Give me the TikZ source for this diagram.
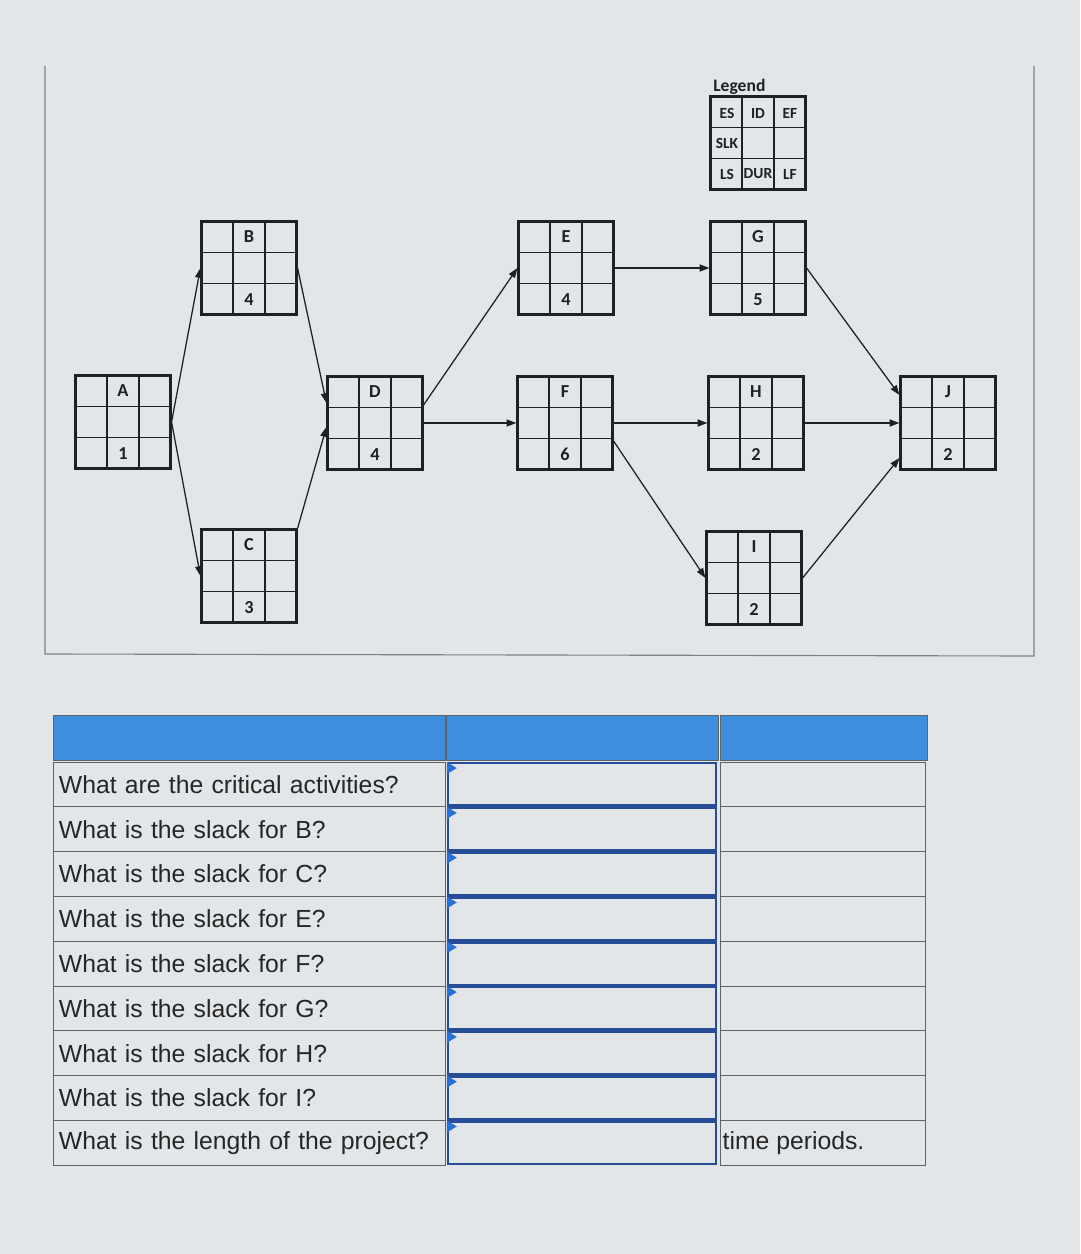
\documentclass[tikz,border=0pt]{standalone}
\usepackage{fontspec}
\setmainfont{Liberation Sans}
\newfontfamily\boxfont{Carlito}
\usetikzlibrary{arrows.meta,calc}

\definecolor{bgcol}{RGB}{226,230,233}
\definecolor{framecol}{RGB}{125,128,132}
\definecolor{headblue}{RGB}{62,142,222}
\definecolor{fieldblue}{RGB}{38,78,150}
\definecolor{tipblue}{RGB}{40,112,215}
\definecolor{qgray}{RGB}{95,98,102}
\definecolor{inkcol}{RGB}{30,32,38}

\begin{document}
\begin{tikzpicture}[x=0.025cm, y=-0.025cm,
    actbox/.style={draw=inkcol, line width=1.5pt, minimum width=2.375cm, minimum height=2.325cm, inner sep=0pt,
        path picture={
            \foreach \t in {0.3333,0.6667}{
                \draw[inkcol, line width=1.3pt] ($(path picture bounding box.north west)!\t!(path picture bounding box.north east)$) -- ($(path picture bounding box.south west)!\t!(path picture bounding box.south east)$);
                \draw[inkcol, line width=1.3pt] ($(path picture bounding box.north west)!\t!(path picture bounding box.south west)$) -- ($(path picture bounding box.north east)!\t!(path picture bounding box.south east)$);
            }}},
    celltext/.style={font=\boxfont\bfseries\fontsize{13}{15}\selectfont, text=inkcol, inner sep=0pt},
    legtext/.style={font=\boxfont\bfseries\fontsize{11}{13}\selectfont, text=inkcol, inner sep=0pt},
    conn/.style={draw=inkcol, line width=0.9pt, -{Triangle[length=7pt,width=5pt]}},
    qcell/.style={draw=qgray, line width=0.6pt, minimum height=1.12cm, text width=9.5cm, inner xsep=0.15cm, align=left,
        font=\fontsize{17.6}{20}\selectfont, text=black!85},
    field/.style={draw=fieldblue, line width=1.6pt, minimum width=6.7cm, minimum height=1.06cm, inner sep=0pt},
    anscell/.style={draw=qgray, line width=0.6pt, minimum width=5.125cm, minimum height=1.12cm, inner sep=0pt},
    headcell/.style={draw=qgray, fill=headblue, line width=0.6pt, minimum height=1.125cm, inner sep=0pt}]

    % page
    \fill[bgcol] (0,0) rectangle (1080,1254);
    \useasboundingbox (0,0) rectangle (1080,1254);

    % frame of the network
    \draw[framecol, line width=0.8pt] (45,66) -- (45,654) -- (1034,656) -- (1034,66);

    % legend
    \node[legtext, anchor=south west, font=\boxfont\bfseries\fontsize{12.5}{14}\selectfont] (legtitle) at (713,95) {Legend};
    \node[actbox] (legend) at (758,143) {};
    \node[legtext] (les) at (727,113) {ES};
    \node[legtext] (lid) at (758,113) {ID};
    \node[legtext] (lef) at (790,113) {EF};
    \node[legtext] (lslk) at (727,143) {SLK};
    \node[legtext] (lls) at (727,174) {LS};
    \node[legtext] (ldur) at (758,174) {DUR};
    \node[legtext] (llf) at (790,174) {LF};

    % activity boxes
    \foreach \n/\pos/\dur in {A/{123,422}/1, B/{249,268}/4, C/{249,576}/3, D/{375,423}/4, E/{566,268}/4,
                              F/{565,423}/6, G/{758,268}/5, H/{756,423}/2, I/{754,578}/2, J/{948,423}/2}{
        \node[actbox] (\n) at (\pos) {};
        \node[celltext] (\n-id) at ($(\n.north)!0.1667!(\n.south)$) {\n};
        \node[celltext] (\n-dur) at ($(\n.south)!0.1667!(\n.north)$) {\dur};
    }

    % connectors
    \draw[conn] (A.east) -- (B.west);
    \draw[conn] (A.east) -- (C.west);
    \draw[conn] (B.east) -- ([yshift=0.5cm]D.west);
    \draw[conn] (C.north east) -- ([yshift=-0.1cm]D.west);
    \draw[conn] ([yshift=0.45cm]D.east) -- (E.west);
    \draw[conn] (D.east) -- (F.west);
    \draw[conn] (E.east) -- (G.west);
    \draw[conn] (F.east) -- (H.west);
    \draw[conn] ([yshift=-0.45cm]F.east) -- (I.west);
    \draw[conn] (G.east) -- ([yshift=0.7cm]J.west);
    \draw[conn] (H.east) -- (J.west);
    \draw[conn] (I.east) -- ([yshift=-0.875cm]J.west);

    % question table
    \node[headcell, minimum width=9.8cm] (h1) at (249,737.5) {};
    \node[headcell, minimum width=6.8cm] (h2) at (582,737.5) {};
    \node[headcell, minimum width=5.175cm] (h3) at (823.5,737.5) {};

    \foreach \i/\q in {1/What are the critical activities?, 2/What is the slack for B?, 3/What is the slack for C?,
                       4/What is the slack for E?, 5/What is the slack for F?, 6/What is the slack for G?,
                       7/What is the slack for H?, 8/What is the slack for I?, 9/What is the length of the project?}{
        \pgfmathsetmacro{\yc}{762+(\i-1)*44.8+22.4}
        \node[qcell] (q\i) at (249,\yc) {\q};
        \node[field] (f\i) at (582,\yc) {};
        \fill[tipblue] (f\i.north west) -- ++(10,6) -- ++(-10,6) -- cycle;
        \node[anscell] (a\i) at (822.5,\yc) {};
    }
    \node[anchor=west, inner sep=0pt, font=\fontsize{17.6}{20}\selectfont, text=black!85] (unit) at ([xshift=0.07cm]a9.west) {time periods.};

\end{tikzpicture}
\end{document}
